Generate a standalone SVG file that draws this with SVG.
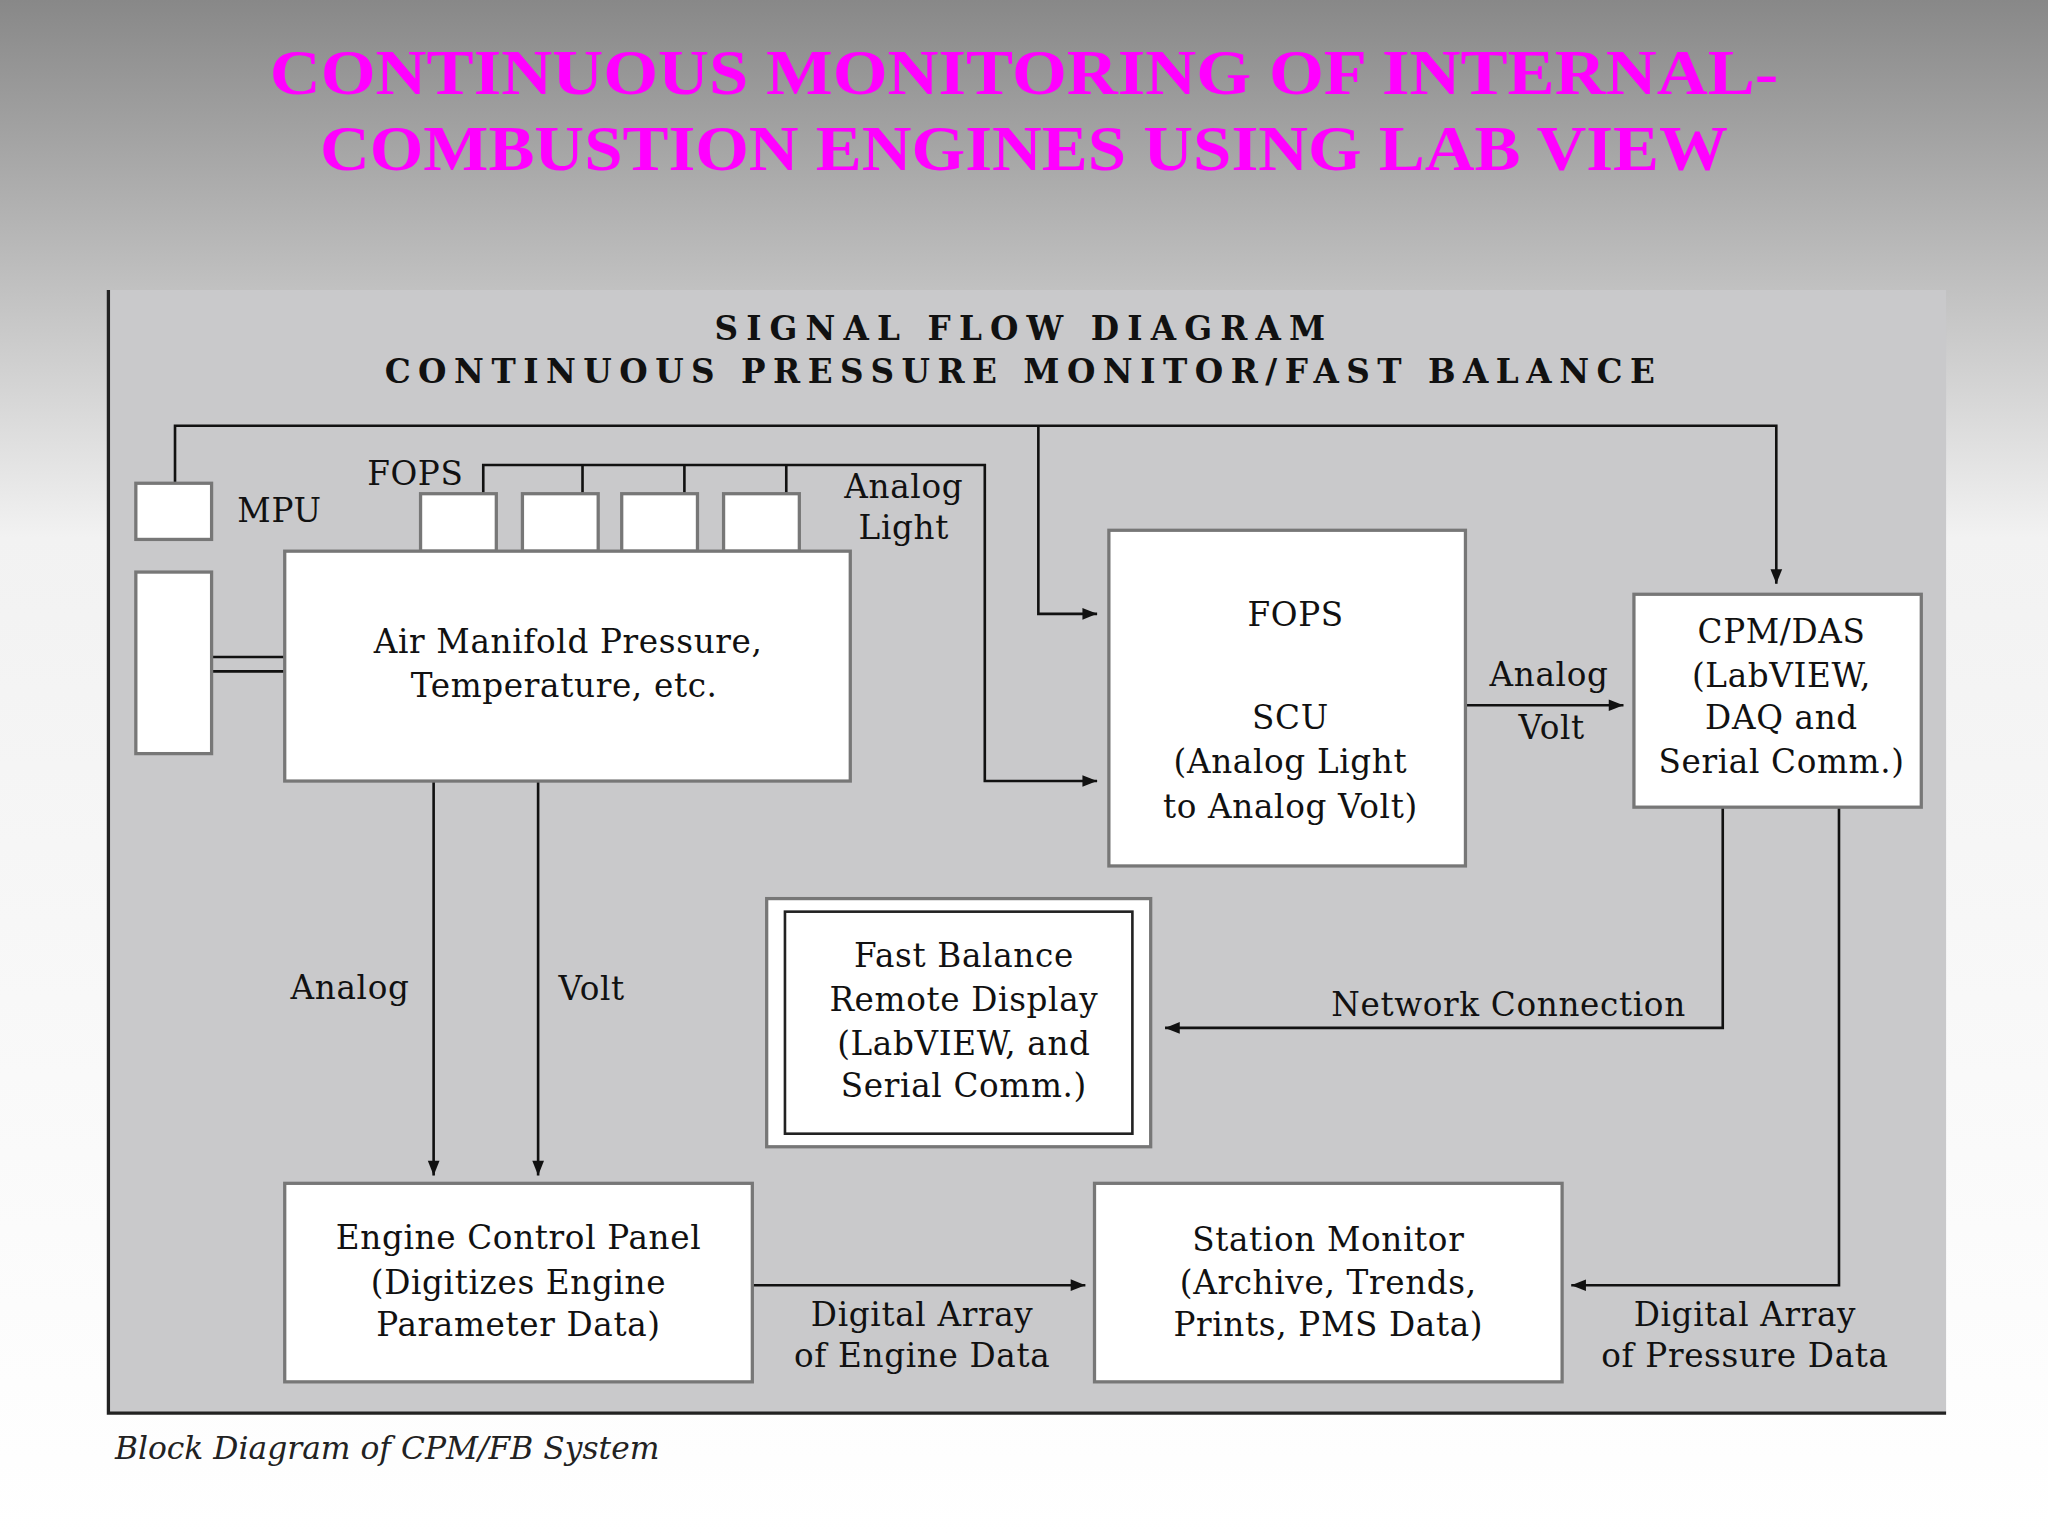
<svg xmlns="http://www.w3.org/2000/svg" width="2048" height="1536" viewBox="0 0 2048 1536">
<defs>
<linearGradient id="bg" x1="0" y1="0" x2="0" y2="1">
<stop offset="0" stop-color="#888"/><stop offset="0.35" stop-color="#f2f2f2"/><stop offset="1" stop-color="#fff"/>
</linearGradient>
<marker id="ah" viewBox="0 0 10 10" refX="10" refY="5" markerWidth="7" markerHeight="7" orient="auto" markerUnits="userSpaceOnUse" overflow="visible">
<path d="M0,1 L10,5 L0,9 Z" fill="#111" transform="scale(1.6) translate(-3.8,-1.9)"/>
</marker>
<style>
.b{fill:#fff;stroke:#777;stroke-width:2.5}
.l{fill:none;stroke:#111;stroke-width:2}
.t{font-family:"DejaVu Serif",serif;font-size:25px;fill:#111;text-anchor:middle;letter-spacing:0.5px}
</style>
</defs>
<rect width="2048" height="1536" fill="url(#bg)"/>
<g transform="scale(1.3061)">
<text x="784" y="72" font-family="Liberation Serif,serif" font-weight="bold" font-size="48" fill="#f0f" text-anchor="middle" textLength="1155" lengthAdjust="spacingAndGlyphs">CONTINUOUS MONITORING OF INTERNAL-</text>
<text x="784" y="130" font-family="Liberation Serif,serif" font-weight="bold" font-size="48" fill="#f0f" text-anchor="middle" textLength="1078" lengthAdjust="spacingAndGlyphs">COMBUSTION ENGINES USING LAB VIEW</text>
<rect x="83" y="222" width="1407" height="860" fill="#c9c9cb"/>
<path d="M83,222 V1082 H1490" fill="none" stroke="#222" stroke-width="2.5"/>
<text x="781" y="260" class="t" font-size="28" font-weight="bold" textLength="468" lengthAdjust="spacing">SIGNAL  FLOW  DIAGRAM</text>
<text x="781" y="293" class="t" font-size="28" font-weight="bold" textLength="973" lengthAdjust="spacing">CONTINUOUS  PRESSURE  MONITOR/FAST  BALANCE</text>
<g id="connectors">
<path class="l" d="M134,370 V326 H1360 V447" marker-end="url(#ah)"/>
<path class="l" d="M795,326 V470 H840" marker-end="url(#ah)"/>
<path class="l" d="M370,378 V356 H754 V598 H840" marker-end="url(#ah)"/>
<path class="l" d="M446,356 V378 M524,356 V378 M602,356 V378"/>
<path class="l" d="M162,503 H218 M162,514 H218" stroke="#888"/>
<path class="l" d="M1122,540 H1243" marker-end="url(#ah)"/>
<path class="l" d="M1319,618 V787 H892" marker-end="url(#ah)"/>
<path class="l" d="M332,598 V900" marker-end="url(#ah)"/>
<path class="l" d="M412,598 V900" marker-end="url(#ah)"/>
<path class="l" d="M576,984 H831" marker-end="url(#ah)"/>
<path class="l" d="M1408,618 V984 H1203" marker-end="url(#ah)"/>
</g>
<g id="mpu"><rect class="b" x="104" y="370" width="58" height="43"/><text class="t" x="214" y="400">MPU</text></g>
<g id="tall"><rect class="b" x="104" y="438" width="58" height="139"/></g>
<g id="sensors">
<rect class="b" x="322" y="378" width="58" height="44"/><rect class="b" x="400" y="378" width="58" height="44"/>
<rect class="b" x="476" y="378" width="58" height="44"/><rect class="b" x="554" y="378" width="58" height="44"/>
<text class="t" x="318" y="371">FOPS</text>
<text class="t" x="692" y="381">Analog</text><text class="t" x="692" y="413">Light</text>
</g>
<g id="air"><rect class="b" x="218" y="422" width="433" height="176"/>
<text class="t" x="435" y="500">Air Manifold Pressure,</text><text class="t" x="432" y="534">Temperature, etc.</text></g>
<g id="fops"><rect class="b" x="849" y="406" width="273" height="257"/>
<text class="t" x="992" y="479">FOPS</text><text class="t" x="988" y="558">SCU</text>
<text class="t" x="988" y="592">(Analog Light</text><text class="t" x="988" y="626">to Analog Volt)</text></g>
<text class="t" x="1186" y="525">Analog</text><text class="t" x="1188" y="566">Volt</text>
<g id="cpm"><rect class="b" x="1251" y="455" width="220" height="163"/>
<text class="t" x="1364" y="492">CPM/DAS</text><text class="t" x="1364" y="526">(LabVIEW,</text>
<text class="t" x="1364" y="558">DAQ and</text><text class="t" x="1364" y="592">Serial Comm.)</text></g>
<g id="fb"><rect class="b" x="587" y="688" width="294" height="190"/><rect x="601" y="698" width="266" height="170" fill="#fff" stroke="#222" stroke-width="2"/>
<text class="t" x="738" y="740">Fast Balance</text><text class="t" x="738" y="774">Remote Display</text>
<text class="t" x="738" y="808">(LabVIEW, and</text><text class="t" x="738" y="840">Serial Comm.)</text></g>
<text class="t" x="1155" y="778">Network Connection</text>
<text class="t" x="268" y="765">Analog</text><text class="t" x="453" y="766">Volt</text>
<g id="ecp"><rect class="b" x="218" y="906" width="358" height="152"/>
<text class="t" x="397" y="956">Engine Control Panel</text><text class="t" x="397" y="991">(Digitizes Engine</text><text class="t" x="397" y="1023">Parameter Data)</text></g>
<text class="t" x="706" y="1015">Digital Array</text><text class="t" x="706" y="1047">of Engine Data</text>
<g id="sm"><rect class="b" x="838" y="906" width="358" height="152"/>
<text class="t" x="1017" y="958">Station Monitor</text><text class="t" x="1017" y="991">(Archive, Trends,</text><text class="t" x="1017" y="1023">Prints, PMS Data)</text></g>
<text class="t" x="1336" y="1015">Digital Array</text><text class="t" x="1336" y="1047">of Pressure Data</text>
<text x="88" y="1117" font-family="DejaVu Serif,serif" font-style="italic" font-size="24" fill="#222">Block Diagram of CPM/FB System</text>
</g>
</svg>
